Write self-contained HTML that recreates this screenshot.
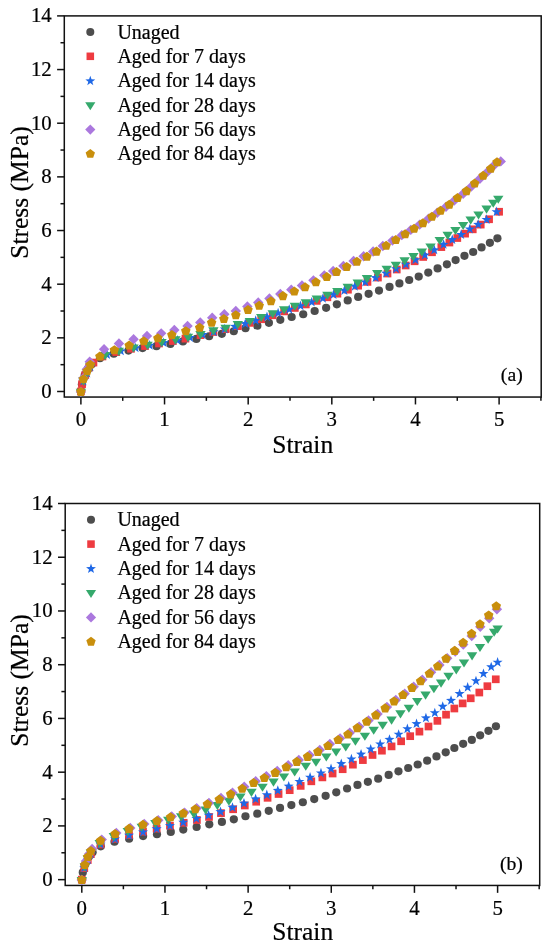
<!DOCTYPE html>
<html><head><meta charset="utf-8"><title>Stress-strain curves</title>
<style>html,body{margin:0;padding:0;background:#fff}svg{display:block}</style></head>
<body>
<svg width="550" height="946" viewBox="0 0 550 946" font-family="'Liberation Serif', 'Times New Roman', serif" fill="#000" stroke="none">
<style>text{stroke:#000;stroke-width:0.22px}</style>
<rect x="64.30" y="15.90" width="476.90" height="381.15" fill="none" stroke="#111" stroke-width="1.5"/>
<line x1="57.10" y1="391.50" x2="64.30" y2="391.50" stroke="#111" stroke-width="1.5"/>
<text x="51.70" y="397.90" text-anchor="end" font-size="20.8">0</text>
<line x1="60.50" y1="364.67" x2="64.30" y2="364.67" stroke="#111" stroke-width="1.5"/>
<line x1="57.10" y1="337.84" x2="64.30" y2="337.84" stroke="#111" stroke-width="1.5"/>
<text x="51.70" y="344.24" text-anchor="end" font-size="20.8">2</text>
<line x1="60.50" y1="311.01" x2="64.30" y2="311.01" stroke="#111" stroke-width="1.5"/>
<line x1="57.10" y1="284.19" x2="64.30" y2="284.19" stroke="#111" stroke-width="1.5"/>
<text x="51.70" y="290.59" text-anchor="end" font-size="20.8">4</text>
<line x1="60.50" y1="257.36" x2="64.30" y2="257.36" stroke="#111" stroke-width="1.5"/>
<line x1="57.10" y1="230.53" x2="64.30" y2="230.53" stroke="#111" stroke-width="1.5"/>
<text x="51.70" y="236.93" text-anchor="end" font-size="20.8">6</text>
<line x1="60.50" y1="203.70" x2="64.30" y2="203.70" stroke="#111" stroke-width="1.5"/>
<line x1="57.10" y1="176.87" x2="64.30" y2="176.87" stroke="#111" stroke-width="1.5"/>
<text x="51.70" y="183.27" text-anchor="end" font-size="20.8">8</text>
<line x1="60.50" y1="150.04" x2="64.30" y2="150.04" stroke="#111" stroke-width="1.5"/>
<line x1="57.10" y1="123.21" x2="64.30" y2="123.21" stroke="#111" stroke-width="1.5"/>
<text x="51.70" y="129.61" text-anchor="end" font-size="20.8">10</text>
<line x1="60.50" y1="96.39" x2="64.30" y2="96.39" stroke="#111" stroke-width="1.5"/>
<line x1="57.10" y1="69.56" x2="64.30" y2="69.56" stroke="#111" stroke-width="1.5"/>
<text x="51.70" y="75.96" text-anchor="end" font-size="20.8">12</text>
<line x1="60.50" y1="42.73" x2="64.30" y2="42.73" stroke="#111" stroke-width="1.5"/>
<line x1="57.10" y1="15.90" x2="64.30" y2="15.90" stroke="#111" stroke-width="1.5"/>
<text x="51.70" y="22.30" text-anchor="end" font-size="20.8">14</text>
<line x1="80.90" y1="397.05" x2="80.90" y2="404.45" stroke="#111" stroke-width="1.5"/>
<text x="80.90" y="426.35" text-anchor="middle" font-size="20.8">0</text>
<line x1="122.72" y1="397.05" x2="122.72" y2="400.85" stroke="#111" stroke-width="1.5"/>
<line x1="164.54" y1="397.05" x2="164.54" y2="404.45" stroke="#111" stroke-width="1.5"/>
<text x="164.54" y="426.35" text-anchor="middle" font-size="20.8">1</text>
<line x1="206.36" y1="397.05" x2="206.36" y2="400.85" stroke="#111" stroke-width="1.5"/>
<line x1="248.18" y1="397.05" x2="248.18" y2="404.45" stroke="#111" stroke-width="1.5"/>
<text x="248.18" y="426.35" text-anchor="middle" font-size="20.8">2</text>
<line x1="290.00" y1="397.05" x2="290.00" y2="400.85" stroke="#111" stroke-width="1.5"/>
<line x1="331.82" y1="397.05" x2="331.82" y2="404.45" stroke="#111" stroke-width="1.5"/>
<text x="331.82" y="426.35" text-anchor="middle" font-size="20.8">3</text>
<line x1="373.64" y1="397.05" x2="373.64" y2="400.85" stroke="#111" stroke-width="1.5"/>
<line x1="415.46" y1="397.05" x2="415.46" y2="404.45" stroke="#111" stroke-width="1.5"/>
<text x="415.46" y="426.35" text-anchor="middle" font-size="20.8">4</text>
<line x1="457.28" y1="397.05" x2="457.28" y2="400.85" stroke="#111" stroke-width="1.5"/>
<line x1="499.10" y1="397.05" x2="499.10" y2="404.45" stroke="#111" stroke-width="1.5"/>
<text x="499.10" y="426.35" text-anchor="middle" font-size="20.8">5</text>
<line x1="540.92" y1="397.05" x2="540.92" y2="400.85" stroke="#111" stroke-width="1.5"/>
<text x="302.70" y="453.20" text-anchor="middle" font-size="25.5">Strain</text>
<text transform="translate(27.60,192.50) rotate(-90)" text-anchor="middle" font-size="25.5">Stress (MPa)</text>
<text x="511.80" y="381.10" text-anchor="middle" font-size="19.7">(a)</text>
<g><circle cx="80.90" cy="391.50" r="4.10" fill="#4d4d4d"/><circle cx="81.90" cy="384.26" r="4.10" fill="#4d4d4d"/><circle cx="84.66" cy="375.40" r="4.10" fill="#4d4d4d"/><circle cx="88.01" cy="368.70" r="4.10" fill="#4d4d4d"/><circle cx="91.77" cy="364.13" r="4.10" fill="#4d4d4d"/><circle cx="99.97" cy="358.23" r="4.10" fill="#4d4d4d"/><circle cx="113.77" cy="353.67" r="4.10" fill="#4d4d4d"/><circle cx="128.49" cy="350.59" r="4.10" fill="#4d4d4d"/><circle cx="142.54" cy="348.04" r="4.10" fill="#4d4d4d"/><circle cx="156.51" cy="346.16" r="4.10" fill="#4d4d4d"/><circle cx="170.39" cy="343.88" r="4.10" fill="#4d4d4d"/><circle cx="182.94" cy="341.46" r="4.10" fill="#4d4d4d"/><circle cx="196.41" cy="338.92" r="4.10" fill="#4d4d4d"/><circle cx="209.12" cy="336.23" r="4.10" fill="#4d4d4d"/><circle cx="221.83" cy="333.82" r="4.10" fill="#4d4d4d"/><circle cx="233.79" cy="331.27" r="4.10" fill="#4d4d4d"/><circle cx="245.50" cy="328.18" r="4.10" fill="#4d4d4d"/><circle cx="257.38" cy="325.64" r="4.10" fill="#4d4d4d"/><circle cx="268.92" cy="322.82" r="4.10" fill="#4d4d4d"/><circle cx="280.30" cy="319.87" r="4.10" fill="#4d4d4d"/><circle cx="291.67" cy="317.02" r="4.10" fill="#4d4d4d"/><circle cx="303.22" cy="314.23" r="4.10" fill="#4d4d4d"/><circle cx="314.67" cy="311.01" r="4.10" fill="#4d4d4d"/><circle cx="326.13" cy="307.79" r="4.10" fill="#4d4d4d"/><circle cx="336.84" cy="304.29" r="4.10" fill="#4d4d4d"/><circle cx="347.71" cy="300.46" r="4.10" fill="#4d4d4d"/><circle cx="358.17" cy="296.93" r="4.10" fill="#4d4d4d"/><circle cx="368.62" cy="293.79" r="4.10" fill="#4d4d4d"/><circle cx="378.99" cy="290.62" r="4.10" fill="#4d4d4d"/><circle cx="389.53" cy="286.95" r="4.10" fill="#4d4d4d"/><circle cx="399.40" cy="283.38" r="4.10" fill="#4d4d4d"/><circle cx="409.19" cy="280.00" r="4.10" fill="#4d4d4d"/><circle cx="418.72" cy="276.54" r="4.10" fill="#4d4d4d"/><circle cx="428.26" cy="272.57" r="4.10" fill="#4d4d4d"/><circle cx="437.62" cy="268.44" r="4.10" fill="#4d4d4d"/><circle cx="446.91" cy="264.33" r="4.10" fill="#4d4d4d"/><circle cx="455.61" cy="260.04" r="4.10" fill="#4d4d4d"/><circle cx="464.47" cy="255.85" r="4.10" fill="#4d4d4d"/><circle cx="473.17" cy="251.99" r="4.10" fill="#4d4d4d"/><circle cx="481.54" cy="247.43" r="4.10" fill="#4d4d4d"/><circle cx="489.90" cy="242.87" r="4.10" fill="#4d4d4d"/><circle cx="497.43" cy="238.31" r="4.10" fill="#4d4d4d"/></g>
<g><rect x="77.05" y="387.65" width="7.70" height="7.70" fill="#ee3b40"/><rect x="78.21" y="380.30" width="7.70" height="7.70" fill="#ee3b40"/><rect x="81.39" y="371.18" width="7.70" height="7.70" fill="#ee3b40"/><rect x="85.25" y="363.72" width="7.70" height="7.70" fill="#ee3b40"/><rect x="89.60" y="358.71" width="7.70" height="7.70" fill="#ee3b40"/><rect x="98.63" y="352.61" width="7.70" height="7.70" fill="#ee3b40"/><rect x="112.43" y="348.23" width="7.70" height="7.70" fill="#ee3b40"/><rect x="127.15" y="344.93" width="7.70" height="7.70" fill="#ee3b40"/><rect x="141.20" y="342.21" width="7.70" height="7.70" fill="#ee3b40"/><rect x="155.17" y="339.64" width="7.70" height="7.70" fill="#ee3b40"/><rect x="169.05" y="337.19" width="7.70" height="7.70" fill="#ee3b40"/><rect x="181.60" y="334.80" width="7.70" height="7.70" fill="#ee3b40"/><rect x="196.66" y="331.26" width="7.70" height="7.70" fill="#ee3b40"/><rect x="209.54" y="328.16" width="7.70" height="7.70" fill="#ee3b40"/><rect x="221.75" y="325.30" width="7.70" height="7.70" fill="#ee3b40"/><rect x="233.96" y="322.30" width="7.70" height="7.70" fill="#ee3b40"/><rect x="246.00" y="319.02" width="7.70" height="7.70" fill="#ee3b40"/><rect x="257.38" y="315.39" width="7.70" height="7.70" fill="#ee3b40"/><rect x="268.84" y="311.42" width="7.70" height="7.70" fill="#ee3b40"/><rect x="280.30" y="307.55" width="7.70" height="7.70" fill="#ee3b40"/><rect x="291.00" y="304.09" width="7.70" height="7.70" fill="#ee3b40"/><rect x="301.96" y="300.59" width="7.70" height="7.70" fill="#ee3b40"/><rect x="312.91" y="297.03" width="7.70" height="7.70" fill="#ee3b40"/><rect x="323.54" y="293.44" width="7.70" height="7.70" fill="#ee3b40"/><rect x="333.57" y="289.83" width="7.70" height="7.70" fill="#ee3b40"/><rect x="344.10" y="285.85" width="7.70" height="7.70" fill="#ee3b40"/><rect x="354.29" y="281.84" width="7.70" height="7.70" fill="#ee3b40"/><rect x="363.63" y="278.05" width="7.70" height="7.70" fill="#ee3b40"/><rect x="374.07" y="273.72" width="7.70" height="7.70" fill="#ee3b40"/><rect x="383.66" y="269.68" width="7.70" height="7.70" fill="#ee3b40"/><rect x="392.91" y="265.66" width="7.70" height="7.70" fill="#ee3b40"/><rect x="401.83" y="261.64" width="7.70" height="7.70" fill="#ee3b40"/><rect x="410.74" y="257.42" width="7.70" height="7.70" fill="#ee3b40"/><rect x="419.32" y="253.11" width="7.70" height="7.70" fill="#ee3b40"/><rect x="428.15" y="248.41" width="7.70" height="7.70" fill="#ee3b40"/><rect x="437.48" y="243.24" width="7.70" height="7.70" fill="#ee3b40"/><rect x="445.55" y="238.68" width="7.70" height="7.70" fill="#ee3b40"/><rect x="453.44" y="234.18" width="7.70" height="7.70" fill="#ee3b40"/><rect x="461.25" y="229.79" width="7.70" height="7.70" fill="#ee3b40"/><rect x="468.90" y="225.47" width="7.70" height="7.70" fill="#ee3b40"/><rect x="476.88" y="220.75" width="7.70" height="7.70" fill="#ee3b40"/><rect x="485.21" y="215.41" width="7.70" height="7.70" fill="#ee3b40"/><rect x="495.25" y="207.90" width="7.70" height="7.70" fill="#ee3b40"/></g>
<g><polygon points="80.90,386.60 82.15,390.18 85.94,390.26 82.92,392.56 84.02,396.19 80.90,394.02 77.78,396.19 78.88,392.56 75.86,390.26 79.65,390.18" fill="#1f68e6"/><polygon points="83.41,375.87 84.66,379.45 88.45,379.53 85.43,381.82 86.52,385.46 83.41,383.29 80.29,385.46 81.39,381.82 78.37,379.53 82.16,379.45" fill="#1f68e6"/><polygon points="87.17,367.82 88.42,371.40 92.21,371.48 89.19,373.78 90.29,377.41 87.17,375.24 84.06,377.41 85.16,373.78 82.13,371.48 85.93,371.40" fill="#1f68e6"/><polygon points="90.35,361.65 91.60,365.23 95.39,365.31 92.37,367.60 93.47,371.24 90.35,369.07 87.24,371.24 88.34,367.60 85.31,365.31 89.11,365.23" fill="#1f68e6"/><polygon points="107.08,349.54 108.33,353.12 112.12,353.20 109.10,355.49 110.19,359.12 107.08,356.96 103.96,359.12 105.06,355.49 102.04,353.20 105.83,353.12" fill="#1f68e6"/><polygon points="120.88,345.78 122.13,349.37 125.92,349.45 122.90,351.74 124.00,355.37 120.88,353.20 117.76,355.37 118.86,351.74 115.84,349.45 119.63,349.37" fill="#1f68e6"/><polygon points="135.60,342.68 136.85,346.27 140.64,346.35 137.62,348.64 138.72,352.27 135.60,350.10 132.49,352.27 133.58,348.64 130.56,346.35 134.35,346.27" fill="#1f68e6"/><polygon points="149.65,340.05 150.90,343.63 154.69,343.71 151.67,346.00 152.77,349.64 149.65,347.47 146.54,349.64 147.64,346.00 144.61,343.71 148.41,343.63" fill="#1f68e6"/><polygon points="163.62,337.50 164.87,341.09 168.66,341.17 165.64,343.46 166.74,347.09 163.62,344.92 160.50,347.09 161.60,343.46 158.58,341.17 162.37,341.09" fill="#1f68e6"/><polygon points="177.50,335.05 178.75,338.63 182.54,338.71 179.52,341.00 180.62,344.63 177.50,342.47 174.39,344.63 175.49,341.00 172.46,338.71 176.26,338.63" fill="#1f68e6"/><polygon points="190.05,332.45 191.30,336.04 195.09,336.12 192.07,338.41 193.17,342.04 190.05,339.87 186.93,342.04 188.03,338.41 185.01,336.12 188.80,336.04" fill="#1f68e6"/><polygon points="202.63,329.32 203.87,332.91 207.67,332.99 204.64,335.28 205.74,338.91 202.63,336.74 199.51,338.91 200.61,335.28 197.59,332.99 201.38,332.91" fill="#1f68e6"/><polygon points="213.67,326.58 214.92,330.16 218.71,330.24 215.69,332.53 216.79,336.16 213.67,334.00 210.56,336.16 211.66,332.53 208.63,330.24 212.43,330.16" fill="#1f68e6"/><polygon points="224.72,323.86 225.96,327.45 229.76,327.52 226.73,329.82 227.83,333.45 224.72,331.28 221.60,333.45 222.70,329.82 219.68,327.52 223.47,327.45" fill="#1f68e6"/><polygon points="235.11,321.23 236.35,324.81 240.15,324.89 237.12,327.18 238.22,330.82 235.11,328.65 231.99,330.82 233.09,327.18 230.07,324.89 233.86,324.81" fill="#1f68e6"/><polygon points="245.28,318.48 246.53,322.06 250.32,322.14 247.30,324.43 248.40,328.07 245.28,325.90 242.16,328.07 243.26,324.43 240.24,322.14 244.03,322.06" fill="#1f68e6"/><polygon points="255.69,315.36 256.94,318.95 260.73,319.02 257.71,321.32 258.80,324.95 255.69,322.78 252.57,324.95 253.67,321.32 250.65,319.02 254.44,318.95" fill="#1f68e6"/><polygon points="266.97,311.62 268.22,315.20 272.02,315.28 268.99,317.57 270.09,321.21 266.97,319.04 263.86,321.21 264.96,317.57 261.93,315.28 265.73,315.20" fill="#1f68e6"/><polygon points="278.10,307.83 279.34,311.42 283.14,311.49 280.11,313.79 281.21,317.42 278.10,315.25 274.98,317.42 276.08,313.79 273.06,311.49 276.85,311.42" fill="#1f68e6"/><polygon points="289.22,304.18 290.47,307.76 294.26,307.84 291.24,310.13 292.33,313.76 289.22,311.60 286.10,313.76 287.20,310.13 284.18,307.84 287.97,307.76" fill="#1f68e6"/><polygon points="300.51,300.54 301.75,304.13 305.55,304.21 302.52,306.50 303.62,310.13 300.51,307.96 297.39,310.13 298.49,306.50 295.46,304.21 299.26,304.13" fill="#1f68e6"/><polygon points="311.71,296.91 312.96,300.50 316.75,300.58 313.73,302.87 314.82,306.50 311.71,304.33 308.59,306.50 309.69,302.87 306.67,300.58 310.46,300.50" fill="#1f68e6"/><polygon points="322.91,293.16 324.16,296.74 327.95,296.82 324.93,299.11 326.03,302.75 322.91,300.58 319.80,302.75 320.90,299.11 317.87,296.82 321.67,296.74" fill="#1f68e6"/><polygon points="333.49,289.41 334.74,292.99 338.53,293.07 335.51,295.36 336.61,299.00 333.49,296.83 330.38,299.00 331.48,295.36 328.45,293.07 332.25,292.99" fill="#1f68e6"/><polygon points="344.37,285.31 345.61,288.89 349.41,288.97 346.38,291.26 347.48,294.89 344.37,292.73 341.25,294.89 342.35,291.26 339.33,288.97 343.12,288.89" fill="#1f68e6"/><polygon points="354.82,281.17 356.07,284.75 359.86,284.83 356.84,287.12 357.94,290.76 354.82,288.59 351.71,290.76 352.80,287.12 349.78,284.83 353.57,284.75" fill="#1f68e6"/><polygon points="365.28,276.89 366.52,280.47 370.32,280.55 367.29,282.84 368.39,286.47 365.28,284.31 362.16,286.47 363.26,282.84 360.24,280.55 364.03,280.47" fill="#1f68e6"/><polygon points="375.65,272.53 376.89,276.12 380.69,276.20 377.66,278.49 378.76,282.12 375.65,279.95 372.53,282.12 373.63,278.49 370.61,276.20 374.40,276.12" fill="#1f68e6"/><polygon points="386.19,268.00 387.43,271.58 391.23,271.66 388.20,273.95 389.30,277.59 386.19,275.42 383.07,277.59 384.17,273.95 381.15,271.66 384.94,271.58" fill="#1f68e6"/><polygon points="396.06,263.62 397.30,267.20 401.10,267.28 398.07,269.57 399.17,273.21 396.06,271.04 392.94,273.21 394.04,269.57 391.01,267.28 394.81,267.20" fill="#1f68e6"/><polygon points="405.84,259.14 407.09,262.73 410.88,262.81 407.86,265.10 408.96,268.73 405.84,266.56 402.73,268.73 403.83,265.10 400.80,262.81 404.60,262.73" fill="#1f68e6"/><polygon points="415.38,254.64 416.62,258.23 420.42,258.31 417.39,260.60 418.49,264.23 415.38,262.06 412.26,264.23 413.36,260.60 410.34,258.31 414.13,258.23" fill="#1f68e6"/><polygon points="424.91,249.86 426.16,253.45 429.95,253.52 426.93,255.82 428.03,259.45 424.91,257.28 421.80,259.45 422.90,255.82 419.87,253.52 423.67,253.45" fill="#1f68e6"/><polygon points="434.28,244.74 435.53,248.32 439.32,248.40 436.30,250.69 437.39,254.32 434.28,252.16 431.16,254.32 432.26,250.69 429.24,248.40 433.03,248.32" fill="#1f68e6"/><polygon points="443.56,239.24 444.81,242.82 448.60,242.90 445.58,245.20 446.68,248.83 443.56,246.66 440.45,248.83 441.55,245.20 438.52,242.90 442.32,242.82" fill="#1f68e6"/><polygon points="452.26,234.47 453.51,238.05 457.30,238.13 454.28,240.42 455.38,244.06 452.26,241.89 449.15,244.06 450.25,240.42 447.22,238.13 451.02,238.05" fill="#1f68e6"/><polygon points="461.13,229.34 462.37,232.93 466.17,233.01 463.14,235.30 464.24,238.93 461.13,236.76 458.01,238.93 459.11,235.30 456.09,233.01 459.88,232.93" fill="#1f68e6"/><polygon points="469.83,223.80 471.07,227.39 474.87,227.46 471.84,229.76 472.94,233.39 469.83,231.22 466.71,233.39 467.81,229.76 464.79,227.46 468.58,227.39" fill="#1f68e6"/><polygon points="478.19,219.27 479.44,222.85 483.23,222.93 480.21,225.22 481.31,228.86 478.19,226.69 475.07,228.86 476.17,225.22 473.15,222.93 476.94,222.85" fill="#1f68e6"/><polygon points="486.55,214.36 487.80,217.95 491.59,218.02 488.57,220.32 489.67,223.95 486.55,221.78 483.44,223.95 484.54,220.32 481.51,218.02 485.31,217.95" fill="#1f68e6"/><polygon points="496.59,206.58 497.84,210.17 501.63,210.24 498.61,212.54 499.71,216.17 496.59,214.00 493.48,216.17 494.57,212.54 491.55,210.24 495.34,210.17" fill="#1f68e6"/></g>
<g><polygon points="75.70,388.80 86.10,388.80 80.90,396.90" fill="#35a96c"/><polygon points="78.21,377.53 88.61,377.53 83.41,385.63" fill="#35a96c"/><polygon points="81.97,369.48 92.37,369.48 87.17,377.58" fill="#35a96c"/><polygon points="85.15,363.31 95.55,363.31 90.35,371.41" fill="#35a96c"/><polygon points="99.79,352.11 110.19,352.11 104.99,360.21" fill="#35a96c"/><polygon points="113.59,347.86 123.99,347.86 118.79,355.96" fill="#35a96c"/><polygon points="128.31,344.44 138.71,344.44 133.51,352.54" fill="#35a96c"/><polygon points="142.36,341.64 152.76,341.64 147.56,349.74" fill="#35a96c"/><polygon points="156.33,338.94 166.73,338.94 161.53,347.04" fill="#35a96c"/><polygon points="170.21,336.31 180.61,336.31 175.41,344.41" fill="#35a96c"/><polygon points="182.76,333.83 193.16,333.83 187.96,341.93" fill="#35a96c"/><polygon points="195.31,331.12 205.71,331.12 200.51,339.22" fill="#35a96c"/><polygon points="208.19,327.36 218.59,327.36 213.39,335.46" fill="#35a96c"/><polygon points="220.40,324.68 230.80,324.68 225.60,332.78" fill="#35a96c"/><polygon points="232.61,320.92 243.01,320.92 237.81,329.02" fill="#35a96c"/><polygon points="244.65,317.97 255.05,317.97 249.85,326.07" fill="#35a96c"/><polygon points="256.03,313.95 266.43,313.95 261.23,322.05" fill="#35a96c"/><polygon points="267.49,310.19 277.89,310.19 272.69,318.29" fill="#35a96c"/><polygon points="278.95,306.17 289.35,306.17 284.15,314.27" fill="#35a96c"/><polygon points="289.65,302.68 300.05,302.68 294.85,310.78" fill="#35a96c"/><polygon points="300.61,299.33 311.01,299.33 305.81,307.43" fill="#35a96c"/><polygon points="311.56,295.54 321.96,295.54 316.76,303.64" fill="#35a96c"/><polygon points="322.19,291.68 332.59,291.68 327.39,299.78" fill="#35a96c"/><polygon points="332.14,287.92 342.54,287.92 337.34,296.02" fill="#35a96c"/><polygon points="342.51,283.63 352.91,283.63 347.71,291.73" fill="#35a96c"/><polygon points="352.55,279.45 362.95,279.45 357.75,287.55" fill="#35a96c"/><polygon points="361.75,275.05 372.15,275.05 366.95,283.15" fill="#35a96c"/><polygon points="372.04,269.95 382.44,269.95 377.24,278.05" fill="#35a96c"/><polygon points="381.49,265.74 391.89,265.74 386.69,273.84" fill="#35a96c"/><polygon points="390.60,261.63 401.00,261.63 395.80,269.73" fill="#35a96c"/><polygon points="399.39,257.34 409.79,257.34 404.59,265.44" fill="#35a96c"/><polygon points="408.17,253.05 418.57,253.05 413.37,261.15" fill="#35a96c"/><polygon points="416.62,248.49 427.02,248.49 421.82,256.59" fill="#35a96c"/><polygon points="425.32,243.39 435.72,243.39 430.52,251.49" fill="#35a96c"/><polygon points="434.52,236.95 444.92,236.95 439.72,245.05" fill="#35a96c"/><polygon points="442.46,231.85 452.86,231.85 447.66,239.95" fill="#35a96c"/><polygon points="450.24,227.02 460.64,227.02 455.44,235.12" fill="#35a96c"/><polygon points="457.93,221.93 468.33,221.93 463.13,230.03" fill="#35a96c"/><polygon points="465.46,216.56 475.86,216.56 470.66,224.66" fill="#35a96c"/><polygon points="473.32,211.46 483.72,211.46 478.52,219.56" fill="#35a96c"/><polygon points="481.35,205.56 491.75,205.56 486.55,213.66" fill="#35a96c"/><polygon points="488.05,199.66 498.45,199.66 493.25,207.76" fill="#35a96c"/><polygon points="493.06,195.63 503.46,195.63 498.26,203.73" fill="#35a96c"/></g>
<g><polygon points="75.70,391.90 80.90,386.70 86.10,391.90 80.90,397.10" fill="#ab78de"/><polygon points="78.21,378.08 83.41,372.88 88.61,378.08 83.41,383.28" fill="#ab78de"/><polygon points="81.55,369.13 86.75,363.93 91.95,369.13 86.75,374.33" fill="#ab78de"/><polygon points="84.48,361.78 89.68,356.58 94.88,361.78 89.68,366.98" fill="#ab78de"/><polygon points="98.87,349.28 104.07,344.08 109.27,349.28 104.07,354.48" fill="#ab78de"/><polygon points="113.76,343.52 118.96,338.32 124.16,343.52 118.96,348.72" fill="#ab78de"/><polygon points="128.39,339.20 133.59,334.00 138.79,339.20 133.59,344.40" fill="#ab78de"/><polygon points="141.78,336.02 146.98,330.82 152.18,336.02 146.98,341.22" fill="#ab78de"/><polygon points="155.99,333.37 161.19,328.17 166.39,333.37 161.19,338.57" fill="#ab78de"/><polygon points="169.13,330.05 174.33,324.85 179.53,330.05 174.33,335.25" fill="#ab78de"/><polygon points="182.34,325.99 187.54,320.79 192.74,325.99 187.54,331.19" fill="#ab78de"/><polygon points="195.05,322.50 200.25,317.30 205.45,322.50 200.25,327.70" fill="#ab78de"/><polygon points="207.01,317.68 212.21,312.48 217.41,317.68 212.21,322.88" fill="#ab78de"/><polygon points="219.14,314.29 224.34,309.09 229.54,314.29 224.34,319.49" fill="#ab78de"/><polygon points="230.60,310.99 235.80,305.79 241.00,310.99 235.80,316.19" fill="#ab78de"/><polygon points="242.14,306.46 247.34,301.26 252.54,306.46 247.34,311.66" fill="#ab78de"/><polygon points="253.02,302.56 258.22,297.36 263.42,302.56 258.22,307.76" fill="#ab78de"/><polygon points="264.22,298.51 269.42,293.31 274.62,298.51 269.42,303.71" fill="#ab78de"/><polygon points="275.10,294.03 280.30,288.83 285.50,294.03 280.30,299.23" fill="#ab78de"/><polygon points="286.05,289.66 291.25,284.46 296.45,289.66 291.25,294.86" fill="#ab78de"/><polygon points="296.76,285.49 301.96,280.29 307.16,285.49 301.96,290.69" fill="#ab78de"/><polygon points="308.22,280.36 313.42,275.16 318.62,280.36 313.42,285.56" fill="#ab78de"/><polygon points="319.09,275.35 324.29,270.15 329.49,275.35 324.29,280.55" fill="#ab78de"/><polygon points="327.96,270.94 333.16,265.74 338.36,270.94 333.16,276.14" fill="#ab78de"/><polygon points="338.16,265.91 343.36,260.71 348.56,265.91 343.36,271.11" fill="#ab78de"/><polygon points="348.37,261.04 353.57,255.84 358.77,261.04 353.57,266.24" fill="#ab78de"/><polygon points="358.40,256.23 363.60,251.03 368.80,256.23 363.60,261.43" fill="#ab78de"/><polygon points="367.94,251.50 373.14,246.30 378.34,251.50 373.14,256.70" fill="#ab78de"/><polygon points="377.64,246.04 382.84,240.84 388.04,246.04 382.84,251.24" fill="#ab78de"/><polygon points="387.26,240.59 392.46,235.39 397.66,240.59 392.46,245.79" fill="#ab78de"/><polygon points="396.63,235.17 401.83,229.97 407.03,235.17 401.83,240.37" fill="#ab78de"/><polygon points="405.58,229.92 410.78,224.72 415.98,229.92 410.78,235.12" fill="#ab78de"/><polygon points="414.44,224.62 419.64,219.42 424.84,224.62 419.64,229.82" fill="#ab78de"/><polygon points="423.39,218.60 428.59,213.40 433.79,218.60 428.59,223.80" fill="#ab78de"/><polygon points="432.01,212.76 437.21,207.56 442.41,212.76 437.21,217.96" fill="#ab78de"/><polygon points="440.79,206.84 445.99,201.64 451.19,206.84 445.99,212.04" fill="#ab78de"/><polygon points="448.99,200.65 454.19,195.45 459.39,200.65 454.19,205.85" fill="#ab78de"/><polygon points="457.93,193.75 463.13,188.55 468.33,193.75 463.13,198.95" fill="#ab78de"/><polygon points="466.13,186.61 471.33,181.41 476.53,186.61 471.33,191.81" fill="#ab78de"/><polygon points="474.66,178.81 479.86,173.61 485.06,178.81 479.86,184.01" fill="#ab78de"/><polygon points="482.19,171.91 487.39,166.71 492.59,171.91 487.39,177.11" fill="#ab78de"/><polygon points="488.46,165.74 493.66,160.54 498.86,165.74 493.66,170.94" fill="#ab78de"/><polygon points="495.57,161.39 500.77,156.19 505.97,161.39 500.77,166.59" fill="#ab78de"/></g>
<g><polygon points="80.90,386.90 85.66,390.35 83.84,395.95 77.96,395.95 76.14,390.35" fill="#c98f0c"/><polygon points="83.41,374.29 88.16,377.75 86.35,383.34 80.47,383.34 78.65,377.75" fill="#c98f0c"/><polygon points="87.17,366.11 91.93,369.56 90.11,375.15 84.23,375.15 82.42,369.56" fill="#c98f0c"/><polygon points="90.35,359.80 95.11,363.26 93.29,368.85 87.41,368.85 85.60,363.26" fill="#c98f0c"/><polygon points="99.89,351.49 104.64,354.94 102.83,360.53 96.95,360.53 95.13,354.94" fill="#c98f0c"/><polygon points="114.36,345.13 119.11,348.58 117.29,354.17 111.42,354.17 109.60,348.58" fill="#c98f0c"/><polygon points="129.16,340.49 133.92,343.94 132.10,349.53 126.22,349.53 124.40,343.94" fill="#c98f0c"/><polygon points="143.80,336.33 148.55,339.78 146.74,345.37 140.86,345.37 139.04,339.78" fill="#c98f0c"/><polygon points="157.85,333.24 162.60,336.70 160.79,342.29 154.91,342.29 153.09,336.70" fill="#c98f0c"/><polygon points="171.82,330.02 176.57,333.48 174.76,339.07 168.88,339.07 167.06,333.48" fill="#c98f0c"/><polygon points="185.78,326.13 190.54,329.59 188.72,335.18 182.85,335.18 181.03,329.59" fill="#c98f0c"/><polygon points="199.67,322.78 204.42,326.23 202.61,331.82 196.73,331.82 194.91,326.23" fill="#c98f0c"/><polygon points="211.63,317.68 216.38,321.14 214.57,326.73 208.69,326.73 206.87,321.14" fill="#c98f0c"/><polygon points="223.84,313.93 228.60,317.38 226.78,322.97 220.90,322.97 219.09,317.38" fill="#c98f0c"/><polygon points="235.80,310.17 240.56,313.63 238.74,319.22 232.86,319.22 231.05,313.63" fill="#c98f0c"/><polygon points="248.01,305.07 252.77,308.53 250.95,314.12 245.07,314.12 243.26,308.53" fill="#c98f0c"/><polygon points="259.22,300.78 263.98,304.24 262.16,309.83 256.28,309.83 254.47,304.24" fill="#c98f0c"/><polygon points="270.93,296.22 275.69,299.67 273.87,305.26 267.99,305.26 266.17,299.67" fill="#c98f0c"/><polygon points="282.89,291.12 287.65,294.58 285.83,300.17 279.95,300.17 278.14,294.58" fill="#c98f0c"/><polygon points="294.35,286.56 299.10,290.02 297.29,295.61 291.41,295.61 289.59,290.02" fill="#c98f0c"/><polygon points="305.06,282.27 309.81,285.72 307.99,291.31 302.12,291.31 300.30,285.72" fill="#c98f0c"/><polygon points="315.93,277.17 320.68,280.63 318.87,286.22 312.99,286.22 311.17,280.63" fill="#c98f0c"/><polygon points="326.80,272.07 331.56,275.53 329.74,281.12 323.86,281.12 322.05,275.53" fill="#c98f0c"/><polygon points="336.50,266.98 341.26,270.43 339.44,276.02 333.56,276.02 331.75,270.43" fill="#c98f0c"/><polygon points="346.71,261.88 351.46,265.33 349.65,270.92 343.77,270.92 341.95,265.33" fill="#c98f0c"/><polygon points="356.91,256.78 361.67,260.24 359.85,265.83 353.97,265.83 352.16,260.24" fill="#c98f0c"/><polygon points="366.95,251.68 371.70,255.14 369.89,260.73 364.01,260.73 362.19,255.14" fill="#c98f0c"/><polygon points="376.48,246.59 381.24,250.04 379.42,255.63 373.54,255.63 371.73,250.04" fill="#c98f0c"/><polygon points="386.19,240.68 390.94,244.14 389.12,249.73 383.25,249.73 381.43,244.14" fill="#c98f0c"/><polygon points="395.80,235.05 400.56,238.51 398.74,244.10 392.87,244.10 391.05,238.51" fill="#c98f0c"/><polygon points="405.17,229.28 409.93,232.74 408.11,238.33 402.23,238.33 400.42,232.74" fill="#c98f0c"/><polygon points="414.12,223.78 418.88,227.24 417.06,232.83 411.18,232.83 409.37,227.24" fill="#c98f0c"/><polygon points="422.99,218.15 427.74,221.60 425.93,227.19 420.05,227.19 418.23,221.60" fill="#c98f0c"/><polygon points="431.94,211.71 436.69,215.16 434.88,220.75 429.00,220.75 427.18,215.16" fill="#c98f0c"/><polygon points="440.55,205.81 445.31,209.26 443.49,214.85 437.61,214.85 435.80,209.26" fill="#c98f0c"/><polygon points="449.33,199.64 454.09,203.09 452.27,208.68 446.40,208.68 444.58,203.09" fill="#c98f0c"/><polygon points="457.53,193.06 462.29,196.52 460.47,202.11 454.59,202.11 452.78,196.52" fill="#c98f0c"/><polygon points="466.48,186.09 471.24,189.54 469.42,195.13 463.54,195.13 461.73,189.54" fill="#c98f0c"/><polygon points="474.68,178.44 479.43,181.90 477.62,187.49 471.74,187.49 469.92,181.90" fill="#c98f0c"/><polygon points="483.21,170.80 487.96,174.25 486.15,179.84 480.27,179.84 478.45,174.25" fill="#c98f0c"/><polygon points="490.74,163.69 495.49,167.14 493.67,172.73 487.80,172.73 485.98,167.14" fill="#c98f0c"/><polygon points="497.01,157.25 501.76,160.70 499.95,166.29 494.07,166.29 492.25,160.70" fill="#c98f0c"/></g>
<circle cx="90.30" cy="32.00" r="4.02" fill="#4d4d4d"/>
<text x="117.40" y="38.60" font-size="20">Unaged</text>
<rect x="86.53" y="52.53" width="7.55" height="7.55" fill="#ee3b40"/>
<text x="117.40" y="62.90" font-size="20">Aged for 7 days</text>
<polygon points="90.30,75.81 91.52,79.32 95.24,79.39 92.28,81.64 93.35,85.20 90.30,83.08 87.25,85.20 88.32,81.64 85.36,79.39 89.08,79.32" fill="#1f68e6"/>
<text x="117.40" y="87.20" font-size="20">Aged for 14 days</text>
<polygon points="85.20,102.25 95.40,102.25 90.30,110.19" fill="#35a96c"/>
<text x="117.40" y="111.50" font-size="20">Aged for 28 days</text>
<polygon points="85.20,129.60 90.30,124.50 95.40,129.60 90.30,134.70" fill="#ab78de"/>
<text x="117.40" y="135.80" font-size="20">Aged for 56 days</text>
<polygon points="90.30,149.00 94.96,152.39 93.18,157.86 87.42,157.86 85.64,152.39" fill="#c98f0c"/>
<text x="117.40" y="160.10" font-size="20">Aged for 84 days</text>
<rect x="65.20" y="503.50" width="474.50" height="381.95" fill="none" stroke="#111" stroke-width="1.5"/>
<line x1="58.00" y1="879.65" x2="65.20" y2="879.65" stroke="#111" stroke-width="1.5"/>
<text x="52.60" y="886.05" text-anchor="end" font-size="20.8">0</text>
<line x1="61.40" y1="852.78" x2="65.20" y2="852.78" stroke="#111" stroke-width="1.5"/>
<line x1="58.00" y1="825.91" x2="65.20" y2="825.91" stroke="#111" stroke-width="1.5"/>
<text x="52.60" y="832.31" text-anchor="end" font-size="20.8">2</text>
<line x1="61.40" y1="799.05" x2="65.20" y2="799.05" stroke="#111" stroke-width="1.5"/>
<line x1="58.00" y1="772.18" x2="65.20" y2="772.18" stroke="#111" stroke-width="1.5"/>
<text x="52.60" y="778.58" text-anchor="end" font-size="20.8">4</text>
<line x1="61.40" y1="745.31" x2="65.20" y2="745.31" stroke="#111" stroke-width="1.5"/>
<line x1="58.00" y1="718.44" x2="65.20" y2="718.44" stroke="#111" stroke-width="1.5"/>
<text x="52.60" y="724.84" text-anchor="end" font-size="20.8">6</text>
<line x1="61.40" y1="691.58" x2="65.20" y2="691.58" stroke="#111" stroke-width="1.5"/>
<line x1="58.00" y1="664.71" x2="65.20" y2="664.71" stroke="#111" stroke-width="1.5"/>
<text x="52.60" y="671.11" text-anchor="end" font-size="20.8">8</text>
<line x1="61.40" y1="637.84" x2="65.20" y2="637.84" stroke="#111" stroke-width="1.5"/>
<line x1="58.00" y1="610.97" x2="65.20" y2="610.97" stroke="#111" stroke-width="1.5"/>
<text x="52.60" y="617.37" text-anchor="end" font-size="20.8">10</text>
<line x1="61.40" y1="584.10" x2="65.20" y2="584.10" stroke="#111" stroke-width="1.5"/>
<line x1="58.00" y1="557.24" x2="65.20" y2="557.24" stroke="#111" stroke-width="1.5"/>
<text x="52.60" y="563.64" text-anchor="end" font-size="20.8">12</text>
<line x1="61.40" y1="530.37" x2="65.20" y2="530.37" stroke="#111" stroke-width="1.5"/>
<line x1="58.00" y1="503.50" x2="65.20" y2="503.50" stroke="#111" stroke-width="1.5"/>
<text x="52.60" y="509.90" text-anchor="end" font-size="20.8">14</text>
<line x1="81.80" y1="885.45" x2="81.80" y2="892.85" stroke="#111" stroke-width="1.5"/>
<text x="81.80" y="914.75" text-anchor="middle" font-size="20.8">0</text>
<line x1="123.38" y1="885.45" x2="123.38" y2="889.25" stroke="#111" stroke-width="1.5"/>
<line x1="164.96" y1="885.45" x2="164.96" y2="892.85" stroke="#111" stroke-width="1.5"/>
<text x="164.96" y="914.75" text-anchor="middle" font-size="20.8">1</text>
<line x1="206.54" y1="885.45" x2="206.54" y2="889.25" stroke="#111" stroke-width="1.5"/>
<line x1="248.12" y1="885.45" x2="248.12" y2="892.85" stroke="#111" stroke-width="1.5"/>
<text x="248.12" y="914.75" text-anchor="middle" font-size="20.8">2</text>
<line x1="289.70" y1="885.45" x2="289.70" y2="889.25" stroke="#111" stroke-width="1.5"/>
<line x1="331.28" y1="885.45" x2="331.28" y2="892.85" stroke="#111" stroke-width="1.5"/>
<text x="331.28" y="914.75" text-anchor="middle" font-size="20.8">3</text>
<line x1="372.86" y1="885.45" x2="372.86" y2="889.25" stroke="#111" stroke-width="1.5"/>
<line x1="414.44" y1="885.45" x2="414.44" y2="892.85" stroke="#111" stroke-width="1.5"/>
<text x="414.44" y="914.75" text-anchor="middle" font-size="20.8">4</text>
<line x1="456.02" y1="885.45" x2="456.02" y2="889.25" stroke="#111" stroke-width="1.5"/>
<line x1="497.60" y1="885.45" x2="497.60" y2="892.85" stroke="#111" stroke-width="1.5"/>
<text x="497.60" y="914.75" text-anchor="middle" font-size="20.8">5</text>
<line x1="539.18" y1="885.45" x2="539.18" y2="889.25" stroke="#111" stroke-width="1.5"/>
<text x="302.70" y="940.20" text-anchor="middle" font-size="25.5">Strain</text>
<text transform="translate(27.60,680.50) rotate(-90)" text-anchor="middle" font-size="25.5">Stress (MPa)</text>
<text x="511.40" y="869.50" text-anchor="middle" font-size="19.7">(b)</text>
<g><circle cx="81.80" cy="879.65" r="4.10" fill="#4d4d4d"/><circle cx="82.80" cy="872.40" r="4.10" fill="#4d4d4d"/><circle cx="85.54" cy="863.53" r="4.10" fill="#4d4d4d"/><circle cx="88.87" cy="856.81" r="4.10" fill="#4d4d4d"/><circle cx="92.61" cy="852.24" r="4.10" fill="#4d4d4d"/><circle cx="100.76" cy="846.33" r="4.10" fill="#4d4d4d"/><circle cx="114.48" cy="841.77" r="4.10" fill="#4d4d4d"/><circle cx="129.12" cy="838.68" r="4.10" fill="#4d4d4d"/><circle cx="143.09" cy="836.12" r="4.10" fill="#4d4d4d"/><circle cx="156.98" cy="834.24" r="4.10" fill="#4d4d4d"/><circle cx="170.78" cy="831.96" r="4.10" fill="#4d4d4d"/><circle cx="183.26" cy="829.54" r="4.10" fill="#4d4d4d"/><circle cx="196.64" cy="826.99" r="4.10" fill="#4d4d4d"/><circle cx="209.28" cy="824.30" r="4.10" fill="#4d4d4d"/><circle cx="221.92" cy="821.88" r="4.10" fill="#4d4d4d"/><circle cx="233.82" cy="819.33" r="4.10" fill="#4d4d4d"/><circle cx="245.46" cy="816.24" r="4.10" fill="#4d4d4d"/><circle cx="257.27" cy="813.69" r="4.10" fill="#4d4d4d"/><circle cx="268.74" cy="810.87" r="4.10" fill="#4d4d4d"/><circle cx="280.05" cy="807.91" r="4.10" fill="#4d4d4d"/><circle cx="291.36" cy="805.06" r="4.10" fill="#4d4d4d"/><circle cx="302.84" cy="802.27" r="4.10" fill="#4d4d4d"/><circle cx="314.23" cy="799.05" r="4.10" fill="#4d4d4d"/><circle cx="325.63" cy="795.82" r="4.10" fill="#4d4d4d"/><circle cx="336.27" cy="792.31" r="4.10" fill="#4d4d4d"/><circle cx="347.08" cy="788.48" r="4.10" fill="#4d4d4d"/><circle cx="357.48" cy="784.94" r="4.10" fill="#4d4d4d"/><circle cx="367.87" cy="781.79" r="4.10" fill="#4d4d4d"/><circle cx="378.18" cy="778.63" r="4.10" fill="#4d4d4d"/><circle cx="388.66" cy="774.95" r="4.10" fill="#4d4d4d"/><circle cx="398.47" cy="771.37" r="4.10" fill="#4d4d4d"/><circle cx="408.20" cy="767.98" r="4.10" fill="#4d4d4d"/><circle cx="417.68" cy="764.52" r="4.10" fill="#4d4d4d"/><circle cx="427.16" cy="760.54" r="4.10" fill="#4d4d4d"/><circle cx="436.48" cy="756.41" r="4.10" fill="#4d4d4d"/><circle cx="445.71" cy="752.30" r="4.10" fill="#4d4d4d"/><circle cx="454.36" cy="748.00" r="4.10" fill="#4d4d4d"/><circle cx="463.17" cy="743.81" r="4.10" fill="#4d4d4d"/><circle cx="471.82" cy="739.94" r="4.10" fill="#4d4d4d"/><circle cx="480.14" cy="735.37" r="4.10" fill="#4d4d4d"/><circle cx="488.45" cy="730.80" r="4.10" fill="#4d4d4d"/><circle cx="495.94" cy="726.23" r="4.10" fill="#4d4d4d"/></g>
<g><rect x="77.95" y="875.80" width="7.70" height="7.70" fill="#ee3b40"/><rect x="80.44" y="864.25" width="7.70" height="7.70" fill="#ee3b40"/><rect x="83.94" y="856.19" width="7.70" height="7.70" fill="#ee3b40"/><rect x="87.01" y="850.28" width="7.70" height="7.70" fill="#ee3b40"/><rect x="96.66" y="840.60" width="7.70" height="7.70" fill="#ee3b40"/><rect x="111.21" y="834.96" width="7.70" height="7.70" fill="#ee3b40"/><rect x="125.18" y="831.20" width="7.70" height="7.70" fill="#ee3b40"/><rect x="139.16" y="827.84" width="7.70" height="7.70" fill="#ee3b40"/><rect x="152.79" y="824.75" width="7.70" height="7.70" fill="#ee3b40"/><rect x="166.10" y="821.85" width="7.70" height="7.70" fill="#ee3b40"/><rect x="179.82" y="818.94" width="7.70" height="7.70" fill="#ee3b40"/><rect x="193.04" y="816.15" width="7.70" height="7.70" fill="#ee3b40"/><rect x="205.18" y="813.09" width="7.70" height="7.70" fill="#ee3b40"/><rect x="217.16" y="809.28" width="7.70" height="7.70" fill="#ee3b40"/><rect x="229.30" y="805.41" width="7.70" height="7.70" fill="#ee3b40"/><rect x="240.94" y="801.64" width="7.70" height="7.70" fill="#ee3b40"/><rect x="252.34" y="797.88" width="7.70" height="7.70" fill="#ee3b40"/><rect x="263.73" y="793.96" width="7.70" height="7.70" fill="#ee3b40"/><rect x="274.71" y="790.15" width="7.70" height="7.70" fill="#ee3b40"/><rect x="285.85" y="786.33" width="7.70" height="7.70" fill="#ee3b40"/><rect x="296.83" y="782.03" width="7.70" height="7.70" fill="#ee3b40"/><rect x="307.47" y="777.46" width="7.70" height="7.70" fill="#ee3b40"/><rect x="318.53" y="773.54" width="7.70" height="7.70" fill="#ee3b40"/><rect x="328.76" y="769.67" width="7.70" height="7.70" fill="#ee3b40"/><rect x="338.82" y="765.37" width="7.70" height="7.70" fill="#ee3b40"/><rect x="349.05" y="760.81" width="7.70" height="7.70" fill="#ee3b40"/><rect x="359.03" y="756.24" width="7.70" height="7.70" fill="#ee3b40"/><rect x="368.68" y="751.13" width="7.70" height="7.70" fill="#ee3b40"/><rect x="378.07" y="746.83" width="7.70" height="7.70" fill="#ee3b40"/><rect x="387.72" y="742.54" width="7.70" height="7.70" fill="#ee3b40"/><rect x="397.28" y="737.43" width="7.70" height="7.70" fill="#ee3b40"/><rect x="406.35" y="732.33" width="7.70" height="7.70" fill="#ee3b40"/><rect x="415.58" y="727.76" width="7.70" height="7.70" fill="#ee3b40"/><rect x="424.64" y="722.65" width="7.70" height="7.70" fill="#ee3b40"/><rect x="433.54" y="717.01" width="7.70" height="7.70" fill="#ee3b40"/><rect x="442.19" y="710.83" width="7.70" height="7.70" fill="#ee3b40"/><rect x="450.51" y="704.65" width="7.70" height="7.70" fill="#ee3b40"/><rect x="458.82" y="699.55" width="7.70" height="7.70" fill="#ee3b40"/><rect x="466.89" y="694.44" width="7.70" height="7.70" fill="#ee3b40"/><rect x="475.45" y="688.67" width="7.70" height="7.70" fill="#ee3b40"/><rect x="483.52" y="682.35" width="7.70" height="7.70" fill="#ee3b40"/><rect x="491.92" y="675.45" width="7.70" height="7.70" fill="#ee3b40"/></g>
<g><polygon points="81.80,874.75 83.05,878.33 86.84,878.41 83.82,880.71 84.92,884.34 81.80,882.17 78.68,884.34 79.78,880.71 76.76,878.41 80.55,878.33" fill="#1f68e6"/><polygon points="84.29,862.66 85.54,866.24 89.34,866.32 86.31,868.61 87.41,872.25 84.29,870.08 81.18,872.25 82.28,868.61 79.25,866.32 83.05,866.24" fill="#1f68e6"/><polygon points="87.79,854.60 89.03,858.18 92.83,858.26 89.80,860.55 90.90,864.19 87.79,862.02 84.67,864.19 85.77,860.55 82.75,858.26 86.54,858.18" fill="#1f68e6"/><polygon points="90.86,848.69 92.11,852.27 95.91,852.35 92.88,854.64 93.98,858.28 90.86,856.11 87.75,858.28 88.85,854.64 85.82,852.35 89.62,852.27" fill="#1f68e6"/><polygon points="100.51,839.02 101.76,842.60 105.55,842.68 102.53,844.97 103.63,848.60 100.51,846.44 97.40,848.60 98.49,844.97 95.47,842.68 99.26,842.60" fill="#1f68e6"/><polygon points="115.06,833.91 116.31,837.50 120.10,837.57 117.08,839.87 118.18,843.50 115.06,841.33 111.95,843.50 113.05,839.87 110.02,837.57 113.82,837.50" fill="#1f68e6"/><polygon points="129.03,830.15 130.28,833.73 134.08,833.81 131.05,836.10 132.15,839.74 129.03,837.57 125.92,839.74 127.02,836.10 123.99,833.81 127.79,833.73" fill="#1f68e6"/><polygon points="143.01,826.85 144.25,830.43 148.05,830.51 145.02,832.80 146.12,836.44 143.01,834.27 139.89,836.44 140.99,832.80 137.97,830.51 141.76,830.43" fill="#1f68e6"/><polygon points="156.64,823.70 157.89,827.29 161.68,827.36 158.66,829.66 159.76,833.29 156.64,831.12 153.53,833.29 154.63,829.66 151.60,827.36 155.40,827.29" fill="#1f68e6"/><polygon points="169.95,820.49 171.20,824.07 174.99,824.15 171.97,826.44 173.06,830.07 169.95,827.91 166.83,830.07 167.93,826.44 164.91,824.15 168.70,824.07" fill="#1f68e6"/><polygon points="183.26,817.07 184.50,820.66 188.30,820.73 185.27,823.03 186.37,826.66 183.26,824.49 180.14,826.66 181.24,823.03 178.21,820.73 182.01,820.66" fill="#1f68e6"/><polygon points="196.39,813.33 197.64,816.91 201.44,816.99 198.41,819.29 199.51,822.92 196.39,820.75 193.28,822.92 194.38,819.29 191.35,816.99 195.15,816.91" fill="#1f68e6"/><polygon points="208.62,810.00 209.87,813.58 213.66,813.66 210.64,815.95 211.73,819.59 208.62,817.42 205.50,819.59 206.60,815.95 203.58,813.66 207.37,813.58" fill="#1f68e6"/><polygon points="220.51,806.51 221.76,810.09 225.55,810.17 222.53,812.46 223.63,816.09 220.51,813.93 217.40,816.09 218.49,812.46 215.47,810.17 219.26,810.09" fill="#1f68e6"/><polygon points="232.49,802.21 233.73,805.79 237.53,805.87 234.50,808.16 235.60,811.79 232.49,809.63 229.37,811.79 230.47,808.16 227.45,805.87 231.24,805.79" fill="#1f68e6"/><polygon points="243.96,798.02 245.21,801.60 249.00,801.68 245.98,803.97 247.08,807.60 243.96,805.44 240.85,807.60 241.95,803.97 238.92,801.68 242.72,801.60" fill="#1f68e6"/><polygon points="255.60,793.72 256.85,797.30 260.64,797.38 257.62,799.67 258.72,803.30 255.60,801.14 252.49,803.30 253.59,799.67 250.56,797.38 254.36,797.30" fill="#1f68e6"/><polygon points="266.83,789.58 268.08,793.16 271.87,793.24 268.85,795.53 269.95,799.17 266.83,797.00 263.72,799.17 264.81,795.53 261.79,793.24 265.58,793.16" fill="#1f68e6"/><polygon points="277.81,785.28 279.05,788.86 282.85,788.94 279.82,791.24 280.92,794.87 277.81,792.70 274.69,794.87 275.79,791.24 272.77,788.94 276.56,788.86" fill="#1f68e6"/><polygon points="288.70,780.98 289.95,784.57 293.74,784.64 290.72,786.94 291.82,790.57 288.70,788.40 285.59,790.57 286.69,786.94 283.66,784.64 287.46,784.57" fill="#1f68e6"/><polygon points="299.43,776.41 300.68,780.00 304.47,780.08 301.45,782.37 302.54,786.00 299.43,783.83 296.31,786.00 297.41,782.37 294.39,780.08 298.18,780.00" fill="#1f68e6"/><polygon points="310.07,772.11 311.32,775.70 315.11,775.78 312.09,778.07 313.19,781.70 310.07,779.53 306.96,781.70 308.06,778.07 305.03,775.78 308.83,775.70" fill="#1f68e6"/><polygon points="320.97,767.82 322.21,771.40 326.01,771.48 322.98,773.77 324.08,777.40 320.97,775.24 317.85,777.40 318.95,773.77 315.93,771.48 319.72,771.40" fill="#1f68e6"/><polygon points="331.03,763.60 332.28,767.18 336.07,767.26 333.05,769.55 334.15,773.19 331.03,771.02 327.92,773.19 329.01,769.55 325.99,767.26 329.78,767.18" fill="#1f68e6"/><polygon points="341.26,758.52 342.51,762.10 346.30,762.18 343.28,764.47 344.37,768.11 341.26,765.94 338.14,768.11 339.24,764.47 336.22,762.18 340.01,762.10" fill="#1f68e6"/><polygon points="351.40,753.84 352.65,757.43 356.45,757.51 353.42,759.80 354.52,763.43 351.40,761.26 348.29,763.43 349.39,759.80 346.36,757.51 350.16,757.43" fill="#1f68e6"/><polygon points="361.05,749.01 362.30,752.59 366.09,752.67 363.07,754.96 364.17,758.60 361.05,756.43 357.94,758.60 359.04,754.96 356.01,752.67 359.81,752.59" fill="#1f68e6"/><polygon points="370.70,743.90 371.94,747.49 375.74,747.57 372.71,749.86 373.81,753.49 370.70,751.32 367.58,753.49 368.68,749.86 365.66,747.57 369.45,747.49" fill="#1f68e6"/><polygon points="380.18,738.80 381.42,742.38 385.22,742.46 382.19,744.75 383.29,748.39 380.18,746.22 377.06,748.39 378.16,744.75 375.14,742.46 378.93,742.38" fill="#1f68e6"/><polygon points="389.49,734.23 390.74,737.82 394.53,737.89 391.51,740.19 392.61,743.82 389.49,741.65 386.38,743.82 387.48,740.19 384.45,737.89 388.25,737.82" fill="#1f68e6"/><polygon points="398.64,729.13 399.89,732.71 403.68,732.79 400.66,735.08 401.75,738.71 398.64,736.55 395.52,738.71 396.62,735.08 393.60,732.79 397.39,732.71" fill="#1f68e6"/><polygon points="407.37,723.59 408.62,727.18 412.41,727.25 409.39,729.55 410.49,733.18 407.37,731.01 404.26,733.18 405.36,729.55 402.33,727.25 406.13,727.18" fill="#1f68e6"/><polygon points="416.52,718.49 417.77,722.07 421.56,722.15 418.54,724.44 419.63,728.07 416.52,725.91 413.40,728.07 414.50,724.44 411.48,722.15 415.27,722.07" fill="#1f68e6"/><polygon points="425.92,712.74 427.16,716.32 430.96,716.40 427.93,718.69 429.03,722.32 425.92,720.16 422.80,722.32 423.90,718.69 420.88,716.40 424.67,716.32" fill="#1f68e6"/><polygon points="434.81,707.63 436.06,711.22 439.85,711.29 436.83,713.59 437.93,717.22 434.81,715.05 431.70,717.22 432.80,713.59 429.77,711.29 433.57,711.22" fill="#1f68e6"/><polygon points="442.71,701.18 443.96,704.77 447.75,704.85 444.73,707.14 445.83,710.77 442.71,708.60 439.60,710.77 440.70,707.14 437.67,704.85 441.47,704.77" fill="#1f68e6"/><polygon points="451.03,695.27 452.28,698.86 456.07,698.93 453.05,701.23 454.15,704.86 451.03,702.69 447.92,704.86 449.01,701.23 445.99,698.93 449.78,698.86" fill="#1f68e6"/><polygon points="459.60,688.42 460.84,692.01 464.64,692.08 461.61,694.38 462.71,698.01 459.60,695.84 456.48,698.01 457.58,694.38 454.56,692.08 458.35,692.01" fill="#1f68e6"/><polygon points="467.66,682.11 468.91,685.69 472.70,685.77 469.68,688.06 470.78,691.70 467.66,689.53 464.55,691.70 465.65,688.06 462.62,685.77 466.42,685.69" fill="#1f68e6"/><polygon points="475.98,675.66 477.22,679.24 481.02,679.32 477.99,681.61 479.09,685.25 475.98,683.08 472.86,685.25 473.96,681.61 470.94,679.32 474.73,679.24" fill="#1f68e6"/><polygon points="483.46,668.40 484.71,671.99 488.50,672.07 485.48,674.36 486.58,677.99 483.46,675.82 480.35,677.99 481.45,674.36 478.42,672.07 482.22,671.99" fill="#1f68e6"/><polygon points="491.20,661.69 492.44,665.27 496.24,665.35 493.21,667.64 494.31,671.28 491.20,669.11 488.08,671.28 489.18,667.64 486.16,665.35 489.95,665.27" fill="#1f68e6"/><polygon points="497.60,657.12 498.85,660.71 502.64,660.78 499.62,663.08 500.72,666.71 497.60,664.54 494.48,666.71 495.58,663.08 492.56,660.78 496.35,660.71" fill="#1f68e6"/></g>
<g><polygon points="76.60,876.95 87.00,876.95 81.80,885.05" fill="#35a96c"/><polygon points="79.59,863.52 89.99,863.52 84.79,871.62" fill="#35a96c"/><polygon points="82.59,855.46 92.99,855.46 87.79,863.56" fill="#35a96c"/><polygon points="85.66,849.54 96.06,849.54 90.86,857.64" fill="#35a96c"/><polygon points="94.48,839.91 104.88,839.91 99.68,848.01" fill="#35a96c"/><polygon points="108.62,833.12 119.02,833.12 113.82,841.22" fill="#35a96c"/><polygon points="122.59,827.92 132.99,827.92 127.79,836.02" fill="#35a96c"/><polygon points="136.56,823.73 146.96,823.73 141.76,831.83" fill="#35a96c"/><polygon points="150.20,820.06 160.60,820.06 155.40,828.16" fill="#35a96c"/><polygon points="163.09,816.63 173.49,816.63 168.29,824.73" fill="#35a96c"/><polygon points="175.98,813.37 186.38,813.37 181.18,821.47" fill="#35a96c"/><polygon points="188.62,810.43 199.02,810.43 193.82,818.53" fill="#35a96c"/><polygon points="200.51,806.56 210.91,806.56 205.71,814.66" fill="#35a96c"/><polygon points="212.15,801.99 222.55,801.99 217.35,810.09" fill="#35a96c"/><polygon points="223.71,797.69 234.11,797.69 228.91,805.79" fill="#35a96c"/><polygon points="235.19,793.39 245.59,793.39 240.39,801.49" fill="#35a96c"/><polygon points="246.25,788.82 256.65,788.82 251.45,796.92" fill="#35a96c"/><polygon points="257.31,783.72 267.71,783.72 262.51,791.82" fill="#35a96c"/><polygon points="268.28,778.61 278.68,778.61 273.48,786.71" fill="#35a96c"/><polygon points="278.68,773.51 289.08,773.51 283.88,781.61" fill="#35a96c"/><polygon points="289.49,768.40 299.89,768.40 294.69,776.50" fill="#35a96c"/><polygon points="300.55,762.76 310.95,762.76 305.75,770.86" fill="#35a96c"/><polygon points="310.78,758.73 321.18,758.73 315.98,766.83" fill="#35a96c"/><polygon points="321.09,753.49 331.49,753.49 326.29,761.59" fill="#35a96c"/><polygon points="330.90,748.52 341.30,748.52 336.10,756.62" fill="#35a96c"/><polygon points="340.55,743.42 350.95,743.42 345.75,751.52" fill="#35a96c"/><polygon points="350.20,737.77 360.60,737.77 355.40,745.87" fill="#35a96c"/><polygon points="359.68,732.67 370.08,732.67 364.88,740.77" fill="#35a96c"/><polygon points="368.49,726.76 378.89,726.76 373.69,734.86" fill="#35a96c"/><polygon points="377.47,721.65 387.87,721.65 382.67,729.75" fill="#35a96c"/><polygon points="386.37,716.55 396.77,716.55 391.57,724.65" fill="#35a96c"/><polygon points="395.27,710.37 405.67,710.37 400.47,718.47" fill="#35a96c"/><polygon points="403.67,704.73 414.07,704.73 408.87,712.83" fill="#35a96c"/><polygon points="412.07,698.01 422.47,698.01 417.27,706.11" fill="#35a96c"/><polygon points="420.38,691.56 430.78,691.56 425.58,699.66" fill="#35a96c"/><polygon points="428.70,685.25 439.10,685.25 433.90,693.35" fill="#35a96c"/><polygon points="435.85,679.61 446.25,679.61 441.05,687.71" fill="#35a96c"/><polygon points="443.34,672.75 453.74,672.75 448.54,680.85" fill="#35a96c"/><polygon points="451.07,666.31 461.47,666.31 456.27,674.41" fill="#35a96c"/><polygon points="458.80,659.45 469.20,659.45 464.00,667.55" fill="#35a96c"/><polygon points="466.87,652.33 477.27,652.33 472.07,660.43" fill="#35a96c"/><polygon points="474.77,644.01 485.17,644.01 479.97,652.11" fill="#35a96c"/><polygon points="482.92,635.68 493.32,635.68 488.12,643.78" fill="#35a96c"/><polygon points="488.91,628.69 499.31,628.69 494.11,636.79" fill="#35a96c"/><polygon points="492.40,625.47 502.80,625.47 497.60,633.57" fill="#35a96c"/></g>
<g><polygon points="76.60,880.05 81.80,874.85 87.00,880.05 81.80,885.25" fill="#ab78de"/><polygon points="80.84,861.06 86.04,855.86 91.24,861.06 86.04,866.26" fill="#ab78de"/><polygon points="83.83,854.08 89.03,848.88 94.23,854.08 89.03,859.28" fill="#ab78de"/><polygon points="86.91,849.05 92.11,843.85 97.31,849.05 92.11,854.25" fill="#ab78de"/><polygon points="96.56,839.62 101.76,834.42 106.96,839.62 101.76,844.82" fill="#ab78de"/><polygon points="111.11,833.06 116.31,827.86 121.51,833.06 116.31,838.26" fill="#ab78de"/><polygon points="125.08,828.06 130.28,822.86 135.48,828.06 130.28,833.26" fill="#ab78de"/><polygon points="139.05,823.95 144.25,818.75 149.45,823.95 144.25,829.15" fill="#ab78de"/><polygon points="153.02,820.20 158.22,815.00 163.42,820.20 158.22,825.40" fill="#ab78de"/><polygon points="166.58,816.42 171.78,811.22 176.98,816.42 171.78,821.62" fill="#ab78de"/><polygon points="179.32,812.58 184.52,807.38 189.72,812.58 184.52,817.78" fill="#ab78de"/><polygon points="191.53,808.16 196.73,802.96 201.93,808.16 196.73,813.36" fill="#ab78de"/><polygon points="203.74,803.02 208.94,797.82 214.14,803.02 208.94,808.22" fill="#ab78de"/><polygon points="215.78,797.99 220.98,792.79 226.18,797.99 220.98,803.19" fill="#ab78de"/><polygon points="227.32,792.65 232.52,787.45 237.72,792.65 232.52,797.85" fill="#ab78de"/><polygon points="239.02,786.80 244.22,781.60 249.42,786.80 244.22,792.00" fill="#ab78de"/><polygon points="250.48,781.13 255.68,775.93 260.88,781.13 255.68,786.33" fill="#ab78de"/><polygon points="261.18,776.09 266.38,770.89 271.58,776.09 266.38,781.29" fill="#ab78de"/><polygon points="272.05,770.95 277.25,765.75 282.45,770.95 277.25,776.15" fill="#ab78de"/><polygon points="283.00,765.31 288.20,760.11 293.40,765.31 288.20,770.51" fill="#ab78de"/><polygon points="293.62,760.04 298.82,754.84 304.02,760.04 298.82,765.24" fill="#ab78de"/><polygon points="304.33,755.10 309.53,749.90 314.73,755.10 309.53,760.30" fill="#ab78de"/><polygon points="314.54,750.01 319.74,744.81 324.94,750.01 319.74,755.21" fill="#ab78de"/><polygon points="324.66,744.07 329.86,738.87 335.06,744.07 329.86,749.27" fill="#ab78de"/><polygon points="334.87,738.35 340.07,733.15 345.27,738.35 340.07,743.55" fill="#ab78de"/><polygon points="344.57,732.79 349.77,727.59 354.97,732.79 349.77,737.99" fill="#ab78de"/><polygon points="353.95,726.61 359.15,721.41 364.35,726.61 359.15,731.81" fill="#ab78de"/><polygon points="363.33,720.45 368.53,715.25 373.73,720.45 368.53,725.65" fill="#ab78de"/><polygon points="372.37,714.04 377.57,708.84 382.77,714.04 377.57,719.24" fill="#ab78de"/><polygon points="381.75,706.98 386.95,701.78 392.15,706.98 386.95,712.18" fill="#ab78de"/><polygon points="390.63,700.07 395.83,694.87 401.03,700.07 395.83,705.27" fill="#ab78de"/><polygon points="399.51,693.63 404.71,688.43 409.91,693.63 404.71,698.83" fill="#ab78de"/><polygon points="408.47,686.74 413.67,681.54 418.87,686.74 413.67,691.94" fill="#ab78de"/><polygon points="417.10,679.81 422.30,674.61 427.50,679.81 422.30,685.01" fill="#ab78de"/><polygon points="425.89,672.25 431.09,667.05 436.29,672.25 431.09,677.45" fill="#ab78de"/><polygon points="434.19,664.94 439.39,659.74 444.59,664.94 439.39,670.14" fill="#ab78de"/><polygon points="442.06,658.24 447.26,653.04 452.46,658.24 447.26,663.44" fill="#ab78de"/><polygon points="450.05,651.46 455.25,646.26 460.45,651.46 455.25,656.66" fill="#ab78de"/><polygon points="458.05,644.53 463.25,639.33 468.45,644.53 463.25,649.73" fill="#ab78de"/><polygon points="466.52,636.00 471.72,630.80 476.92,636.00 471.72,641.20" fill="#ab78de"/><polygon points="475.08,626.85 480.28,621.65 485.48,626.85 480.28,632.05" fill="#ab78de"/><polygon points="483.99,618.35 489.19,613.15 494.39,618.35 489.19,623.55" fill="#ab78de"/><polygon points="491.71,609.26 496.91,604.06 502.11,609.26 496.91,614.46" fill="#ab78de"/></g>
<g><polygon points="81.80,875.05 86.56,878.50 84.74,884.10 78.86,884.10 77.04,878.50" fill="#c98f0c"/><polygon points="84.79,860.00 89.55,863.46 87.73,869.05 81.85,869.05 80.04,863.46" fill="#c98f0c"/><polygon points="87.79,851.94 92.54,855.40 90.73,860.99 84.85,860.99 83.03,855.40" fill="#c98f0c"/><polygon points="90.86,846.03 95.62,849.49 93.80,855.08 87.93,855.08 86.11,849.49" fill="#c98f0c"/><polygon points="100.51,835.82 105.27,839.28 103.45,844.87 97.57,844.87 95.76,839.28" fill="#c98f0c"/><polygon points="115.06,828.97 119.82,832.43 118.00,838.02 112.13,838.02 110.31,832.43" fill="#c98f0c"/><polygon points="129.03,823.87 133.79,827.32 131.97,832.91 126.10,832.91 124.28,827.32" fill="#c98f0c"/><polygon points="143.01,819.70 147.76,823.16 145.94,828.75 140.07,828.75 138.25,823.16" fill="#c98f0c"/><polygon points="156.98,815.94 161.73,819.40 159.92,824.99 154.04,824.99 152.22,819.40" fill="#c98f0c"/><polygon points="170.53,812.18 175.29,815.63 173.47,821.22 167.59,821.22 165.78,815.63" fill="#c98f0c"/><polygon points="183.26,808.42 188.01,811.87 186.19,817.46 180.32,817.46 178.50,811.87" fill="#c98f0c"/><polygon points="195.31,804.23 200.07,807.68 198.25,813.27 192.37,813.27 190.56,807.68" fill="#c98f0c"/><polygon points="207.37,799.28 212.13,802.74 210.31,808.33 204.43,808.33 202.62,802.74" fill="#c98f0c"/><polygon points="219.26,794.45 224.02,797.90 222.20,803.49 216.32,803.49 214.51,797.90" fill="#c98f0c"/><polygon points="230.66,789.34 235.41,792.80 233.60,798.39 227.72,798.39 225.90,792.80" fill="#c98f0c"/><polygon points="242.22,783.70 246.97,787.15 245.15,792.74 239.28,792.74 237.46,787.15" fill="#c98f0c"/><polygon points="253.61,778.06 258.36,781.51 256.55,787.10 250.67,787.10 248.85,781.51" fill="#c98f0c"/><polygon points="264.34,772.95 269.09,776.41 267.28,782.00 261.40,782.00 259.58,776.41" fill="#c98f0c"/><polygon points="275.23,767.85 279.99,771.30 278.17,776.89 272.29,776.89 270.47,771.30" fill="#c98f0c"/><polygon points="286.21,762.20 290.96,765.66 289.15,771.25 283.27,771.25 281.45,765.66" fill="#c98f0c"/><polygon points="296.85,756.83 301.61,760.29 299.79,765.88 293.91,765.88 292.10,760.29" fill="#c98f0c"/><polygon points="307.58,751.86 312.33,755.32 310.52,760.91 304.64,760.91 302.82,755.32" fill="#c98f0c"/><polygon points="317.81,746.89 322.56,750.35 320.75,755.94 314.87,755.94 313.05,750.35" fill="#c98f0c"/><polygon points="327.95,740.98 332.71,744.43 330.89,750.02 325.01,750.02 323.20,744.43" fill="#c98f0c"/><polygon points="338.18,735.07 342.94,738.52 341.12,744.11 335.24,744.11 333.43,738.52" fill="#c98f0c"/><polygon points="347.91,729.43 352.67,732.88 350.85,738.47 344.97,738.47 343.16,732.88" fill="#c98f0c"/><polygon points="357.31,723.11 362.06,726.57 360.25,732.16 354.37,732.16 352.55,726.57" fill="#c98f0c"/><polygon points="366.71,716.80 371.46,720.25 369.65,725.84 363.77,725.84 361.95,720.25" fill="#c98f0c"/><polygon points="375.77,710.35 380.53,713.80 378.71,719.40 372.83,719.40 371.02,713.80" fill="#c98f0c"/><polygon points="385.17,703.36 389.92,706.82 388.11,712.41 382.23,712.41 380.41,706.82" fill="#c98f0c"/><polygon points="394.07,696.38 398.82,699.83 397.00,705.42 391.13,705.42 389.31,699.83" fill="#c98f0c"/><polygon points="402.96,689.93 407.72,693.39 405.90,698.98 400.02,698.98 398.21,693.39" fill="#c98f0c"/><polygon points="411.95,683.08 416.70,686.53 414.88,692.12 409.01,692.12 407.19,686.53" fill="#c98f0c"/><polygon points="420.59,676.23 425.35,679.68 423.53,685.27 417.65,685.27 415.84,679.68" fill="#c98f0c"/><polygon points="429.41,668.70 434.16,672.16 432.35,677.75 426.47,677.75 424.65,672.16" fill="#c98f0c"/><polygon points="437.72,661.45 442.48,664.91 440.66,670.50 434.79,670.50 432.97,664.91" fill="#c98f0c"/><polygon points="446.04,653.77 450.80,657.22 448.98,662.81 443.10,662.81 441.29,657.22" fill="#c98f0c"/><polygon points="454.61,645.87 459.36,649.32 457.55,654.91 451.67,654.91 449.85,649.32" fill="#c98f0c"/><polygon points="463.17,637.81 467.93,641.26 466.11,646.85 460.23,646.85 458.42,641.26" fill="#c98f0c"/><polygon points="471.57,628.81 476.33,632.26 474.51,637.85 468.63,637.85 466.82,632.26" fill="#c98f0c"/><polygon points="479.97,619.27 484.73,622.72 482.91,628.31 477.03,628.31 475.21,622.72" fill="#c98f0c"/><polygon points="488.70,610.40 493.46,613.86 491.64,619.45 485.76,619.45 483.95,613.86" fill="#c98f0c"/><polygon points="496.27,601.27 501.02,604.72 499.21,610.31 493.33,610.31 491.51,604.72" fill="#c98f0c"/></g>
<circle cx="91.00" cy="519.80" r="4.02" fill="#4d4d4d"/>
<text x="117.40" y="526.40" font-size="20">Unaged</text>
<rect x="87.23" y="540.33" width="7.55" height="7.55" fill="#ee3b40"/>
<text x="117.40" y="550.70" font-size="20">Aged for 7 days</text>
<polygon points="91.00,563.61 92.22,567.12 95.94,567.19 92.98,569.44 94.05,573.00 91.00,570.88 87.95,573.00 89.02,569.44 86.06,567.19 89.78,567.12" fill="#1f68e6"/>
<text x="117.40" y="575.00" font-size="20">Aged for 14 days</text>
<polygon points="85.90,590.05 96.10,590.05 91.00,597.99" fill="#35a96c"/>
<text x="117.40" y="599.30" font-size="20">Aged for 28 days</text>
<polygon points="85.90,617.40 91.00,612.30 96.10,617.40 91.00,622.50" fill="#ab78de"/>
<text x="117.40" y="623.60" font-size="20">Aged for 56 days</text>
<polygon points="91.00,636.80 95.66,640.19 93.88,645.66 88.12,645.66 86.34,640.19" fill="#c98f0c"/>
<text x="117.40" y="647.90" font-size="20">Aged for 84 days</text>
</svg>
</body></html>
